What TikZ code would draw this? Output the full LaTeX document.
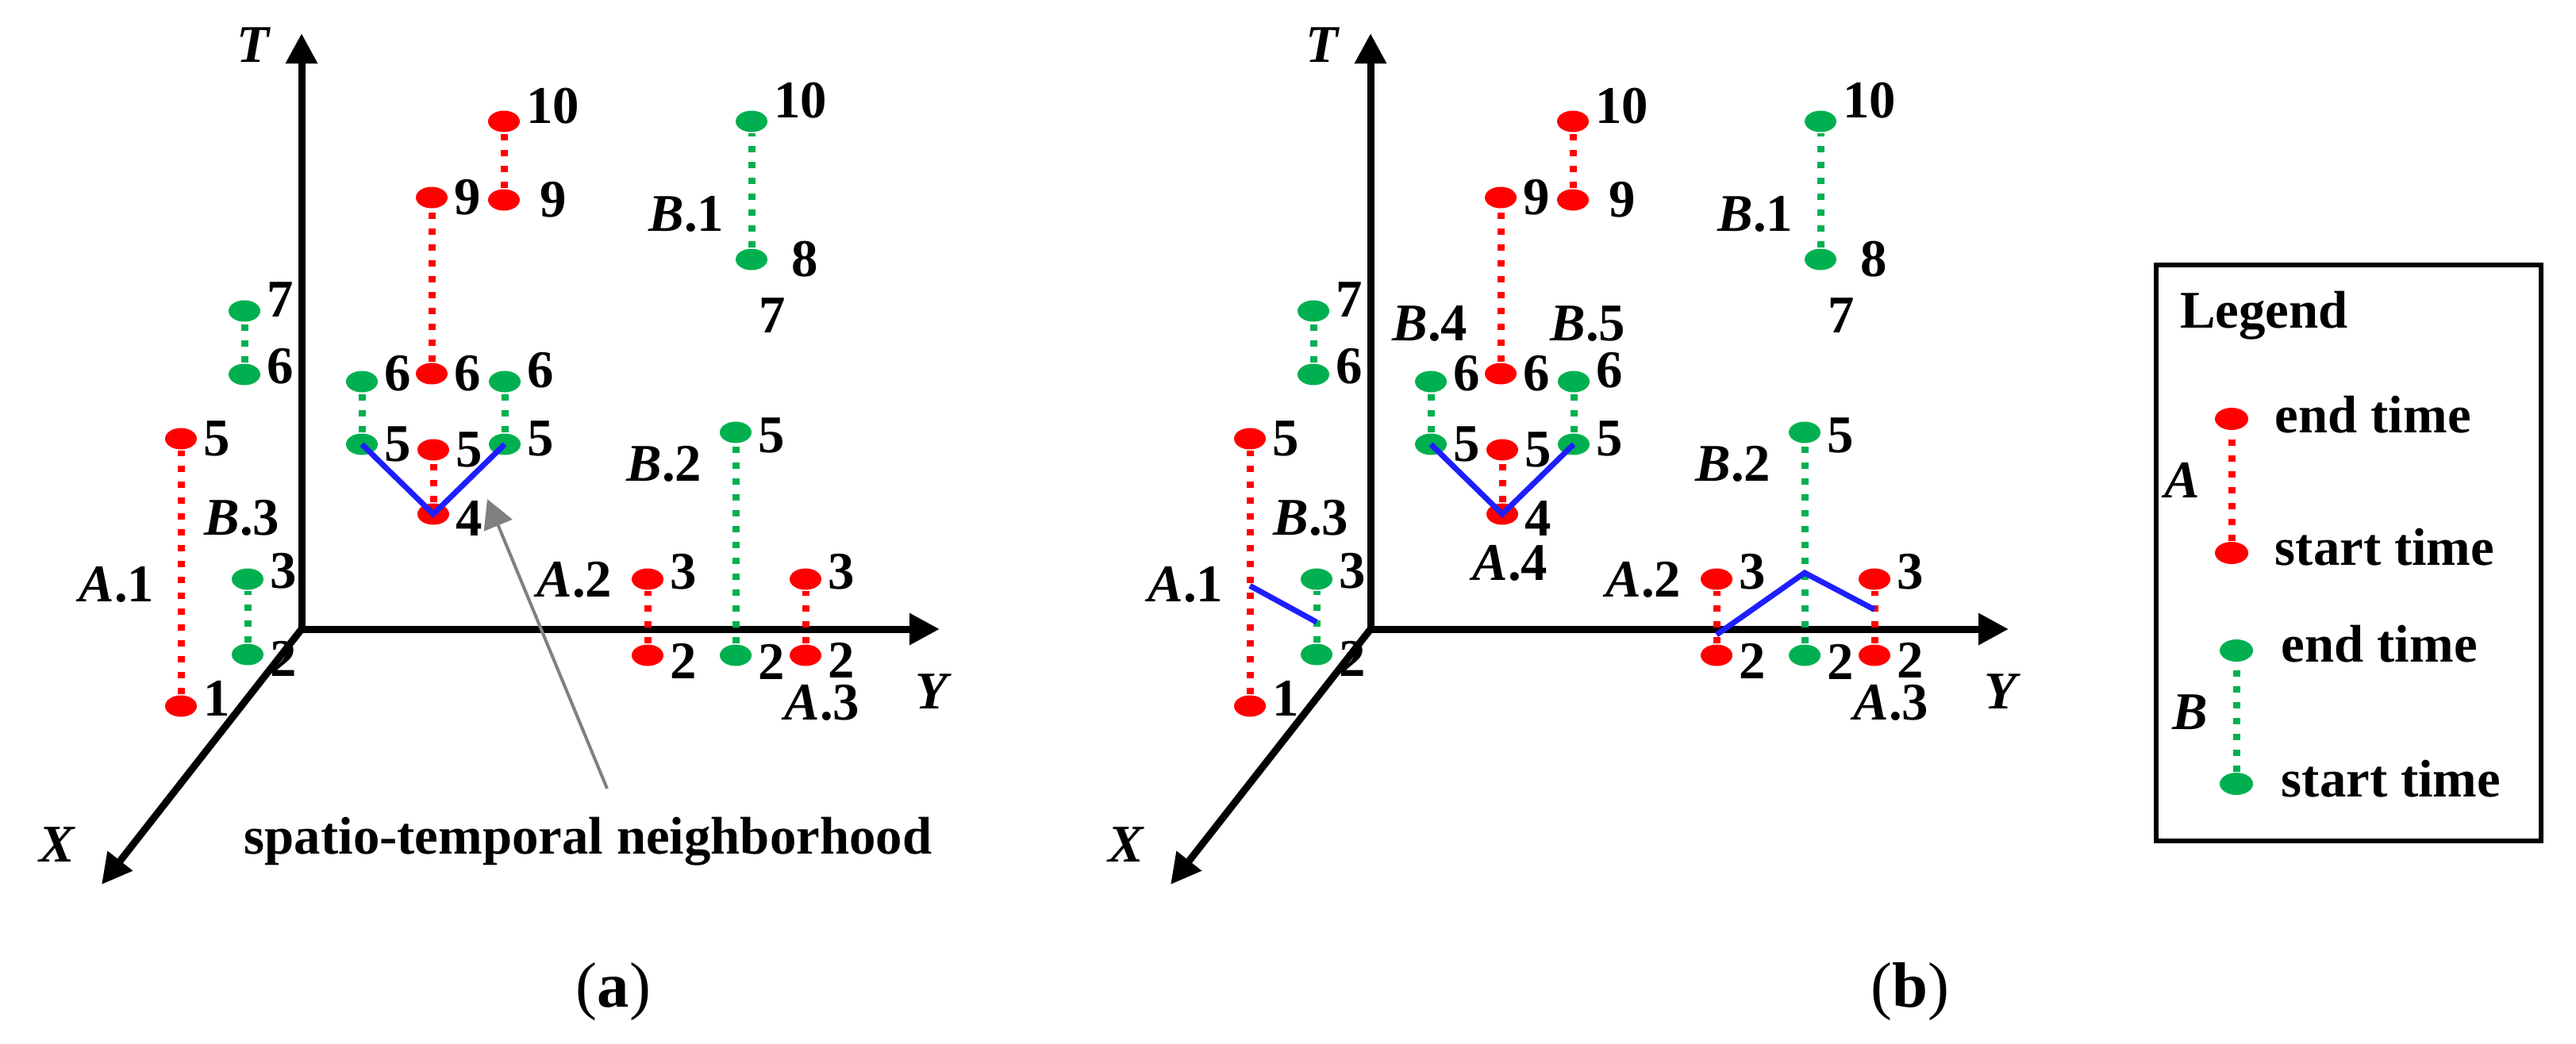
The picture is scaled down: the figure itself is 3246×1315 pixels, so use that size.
\documentclass[tikz,border=0pt]{standalone}
\usepackage{fontspec}
\setmainfont{Liberation Serif}
\usepackage{tikz}
\usetikzlibrary{arrows.meta,shapes.geometric,calc}
\definecolor{PtRed}{RGB}{255,0,0}
\definecolor{PtGreen}{RGB}{0,176,80}
\definecolor{LinkBlue}{RGB}{30,30,255}
\definecolor{HintGray}{RGB}{128,128,128}
\tikzset{
    axtip/.tip={Triangle[length=1.9mm,width=1.9mm]},
    axisline/.style={line width=0.45mm},
    redpt/.style={ellipse, fill=PtRed, minimum width=2mm, minimum height=1.35mm, inner sep=0pt},
    greenpt/.style={redpt, fill=PtGreen},
    reddots/.style={draw=PtRed, line width=0.45mm, dash pattern=on 0.4mm off 0.6mm},
    greendots/.style={reddots, draw=PtGreen},
    numlbl/.style={font=\bfseries\fontsize{9.5}{11}\selectfont, inner sep=0.5pt},
    objlbl/.style={font=\bfseries\fontsize{9.5}{11}\selectfont, inner sep=0pt},
    linkline/.style={draw=LinkBlue, line width=0.35mm},
    hintarr/.style={draw=HintGray, line width=0.2mm, -{Triangle[length=1.8mm,width=1.9mm]}},
    capt/.style={font=\fontsize{11.5}{13}\selectfont, inner sep=0pt},
    legframe/.style={draw, line width=0.3mm},
}

\begin{document}
\begin{tikzpicture}[x=0.05mm, y=-0.05mm, label distance=0.3pt]
\useasboundingbox (0,0) rectangle (3246,1315);

% both panels share axes and intervals
\foreach \p/\dx in {a/0,b/1347}{
\begin{scope}[shift={(\dx,0)}]
\coordinate (\p-O) at (380,793);
\coordinate (\p-T) at (380,42);
\coordinate (\p-Y) at (1184,793);
\coordinate (\p-X) at (128,1115);
\draw[axisline, axtip-axtip] (\p-T) -- (\p-O) -- (\p-Y);
\draw[axisline, -axtip] (\p-O) -- (\p-X);
\node[objlbl] (\p-Tl) at (320,57) {\textit{T}};
\node[objlbl] (\p-Yl) at (1176,872) {\textit{Y}};
\node[objlbl] (\p-Xl) at (72,1065) {\textit{X}};

\node[greenpt, label={[numlbl,yshift=0.7mm]right:7}] (\p-g76e) at (308,392) {};
\node[greenpt, label={[numlbl,yshift=0.5mm]right:6}] (\p-g76s) at (308,472) {};
\node[redpt, label={[numlbl]right:5}] (\p-A1e) at (228,553) {};
\node[redpt, label={[numlbl,yshift=0.5mm]right:1}] (\p-A1s) at (228,890) {};
\node[greenpt, label={[numlbl,yshift=0.5mm]right:3}] (\p-B3e) at (312,730) {};
\node[greenpt, label={[numlbl,yshift=-0.25mm]right:2}] (\p-B3s) at (312,825) {};
\node[redpt, label={[numlbl]right:9}] (\p-r96e) at (544,249) {};
\node[redpt, label={[numlbl]right:6}] (\p-r96s) at (544,471) {};
\node[redpt, label={[numlbl,yshift=0.95mm]right:10}] (\p-r109e) at (635,153) {};
\node[redpt, label={[numlbl,xshift=0.85mm]right:9}] (\p-r109s) at (635,252) {};
\node[greenpt, label={[numlbl,yshift=0.5mm]right:6}] (\p-B4e) at (456,481) {};
\node[greenpt, label={[numlbl]right:5}] (\p-B4s) at (456,560) {};
\node[redpt, label={[numlbl]right:5}] (\p-A4e) at (546,567) {};
\node[redpt, label={[numlbl,yshift=-0.3mm]right:4}] (\p-A4s) at (546,648) {};
\node[greenpt, label={[numlbl,yshift=0.7mm]right:6}] (\p-B5e) at (636,481) {};
\node[greenpt, label={[numlbl,yshift=0.35mm]right:5}] (\p-B5s) at (636,560) {};
\node[greenpt, label={[numlbl,yshift=1.3mm]right:10}] (\p-B1e) at (947,153) {};
\node[greenpt, label={[numlbl,xshift=1.1mm]right:8}] (\p-B1s) at (947,327) {};
\node[greenpt, label={[numlbl,yshift=-0.2mm]right:5}] (\p-B2e) at (927,545) {};
\node[greenpt, label={[numlbl,yshift=-0.4mm]right:2}] (\p-B2s) at (927,826) {};
\node[redpt, label={[numlbl,yshift=0.45mm]right:3}] (\p-A2e) at (816,730) {};
\node[redpt, label={[numlbl,yshift=-0.35mm]right:2}] (\p-A2s) at (816,826) {};
\node[redpt, label={[numlbl,yshift=0.45mm]right:3}] (\p-A3e) at (1015,730) {};
\node[redpt, label={[numlbl,yshift=-0.3mm]right:2}] (\p-A3s) at (1015,826) {};
\node[numlbl] (\p-seven) at (973,398) {7};

\draw[greendots] (\p-g76s) -- (\p-g76e);
\draw[reddots] (\p-A1s) -- (\p-A1e);
\draw[greendots] (\p-B3s) -- (\p-B3e);
\draw[reddots] (\p-r96s) -- (\p-r96e);
\draw[reddots] (\p-r109s) -- (\p-r109e);
\draw[greendots] (\p-B4s) -- (\p-B4e);
\draw[reddots] (\p-A4s) -- (\p-A4e);
\draw[greendots] (\p-B5s) -- (\p-B5e);
\draw[greendots] (\p-B1s) -- (\p-B1e);
\draw[greendots] (\p-B2s) -- (\p-B2e);
\draw[reddots] (\p-A2s) -- (\p-A2e);
\draw[reddots] (\p-A3s) -- (\p-A3e);

\node[objlbl] (\p-A1l) at (147,737) {\textit{A}.1};
\node[objlbl] (\p-B3l) at (305,653) {\textit{B}.3};
\node[objlbl] (\p-B1l) at (865,270) {\textit{B}.1};
\node[objlbl] (\p-B2l) at (837,585) {\textit{B}.2};
\node[objlbl] (\p-A2l) at (724,731) {\textit{A}.2};
\node[objlbl] (\p-A3l) at (1036,886) {\textit{A}.3};

\draw[linkline] (\p-B4s.center) -- (\p-A4s.center) -- (\p-B5s.center);
\end{scope}}

% panel (a)
\node[numlbl] (nbtext) at (741,1061) {spatio-temporal neighborhood};
\coordinate (nbtail) at (765,994);
\coordinate (nbtip) at (614,629);
\draw[hintarr] (nbtail) -- (nbtip);
\node[capt] (capa) at (773,1250) {(\textbf{a})};

% panel (b)
\node[objlbl] (b-B4l) at (1802,408) {\textit{B}.4};
\node[objlbl] (b-B5l) at (2001,408) {\textit{B}.5};
\node[objlbl] (b-A4l) at (1903,710) {\textit{A}.4};
\coordinate (b-k1) at ($(b-A1e)!0.55!(b-A1s)$);
\coordinate (b-k2) at ($(b-B3e)!0.57!(b-B3s)$);
\coordinate (b-k3) at ($(b-A2e)!0.73!(b-A2s)$);
\coordinate (b-k4) at ($(b-B2e)!0.63!(b-B2s)$);
\coordinate (b-k5) at ($(b-A3e)!0.40!(b-A3s)$);
\draw[linkline] (b-k1) -- (b-k2);
\draw[linkline] (b-k3) -- (b-k4) -- (b-k5);
\node[capt] (capb) at (2407,1250) {(\textbf{b})};

% legend
\draw[legframe] (2717,334) rectangle (3202,1060);
\node[numlbl, anchor=base] (legtitle) at (2853,413) {Legend};
\node[redpt, minimum width=2.1mm, minimum height=1.4mm] (legAe) at (2812,528) {};
\node[redpt, minimum width=2.1mm, minimum height=1.4mm] (legAs) at (2812,697) {};
\draw[reddots] (legAs) -- (legAe);
\node[numlbl, anchor=west] (legAet) at (2862,523) {end time};
\node[numlbl, anchor=west] (legAst) at (2862,690) {start time};
\node[objlbl] (legA) at (2750,605) {\textit{A}};
\node[greenpt, minimum width=2.1mm, minimum height=1.4mm] (legBe) at (2818,820) {};
\node[greenpt, minimum width=2.1mm, minimum height=1.4mm] (legBs) at (2818,988) {};
\draw[greendots] (legBs) -- (legBe);
\node[numlbl, anchor=west] (legBet) at (2870,812) {end time};
\node[numlbl, anchor=west] (legBst) at (2870,982) {start time};
\node[objlbl] (legB) at (2760,898) {\textit{B}};
\end{tikzpicture}
\end{document}
